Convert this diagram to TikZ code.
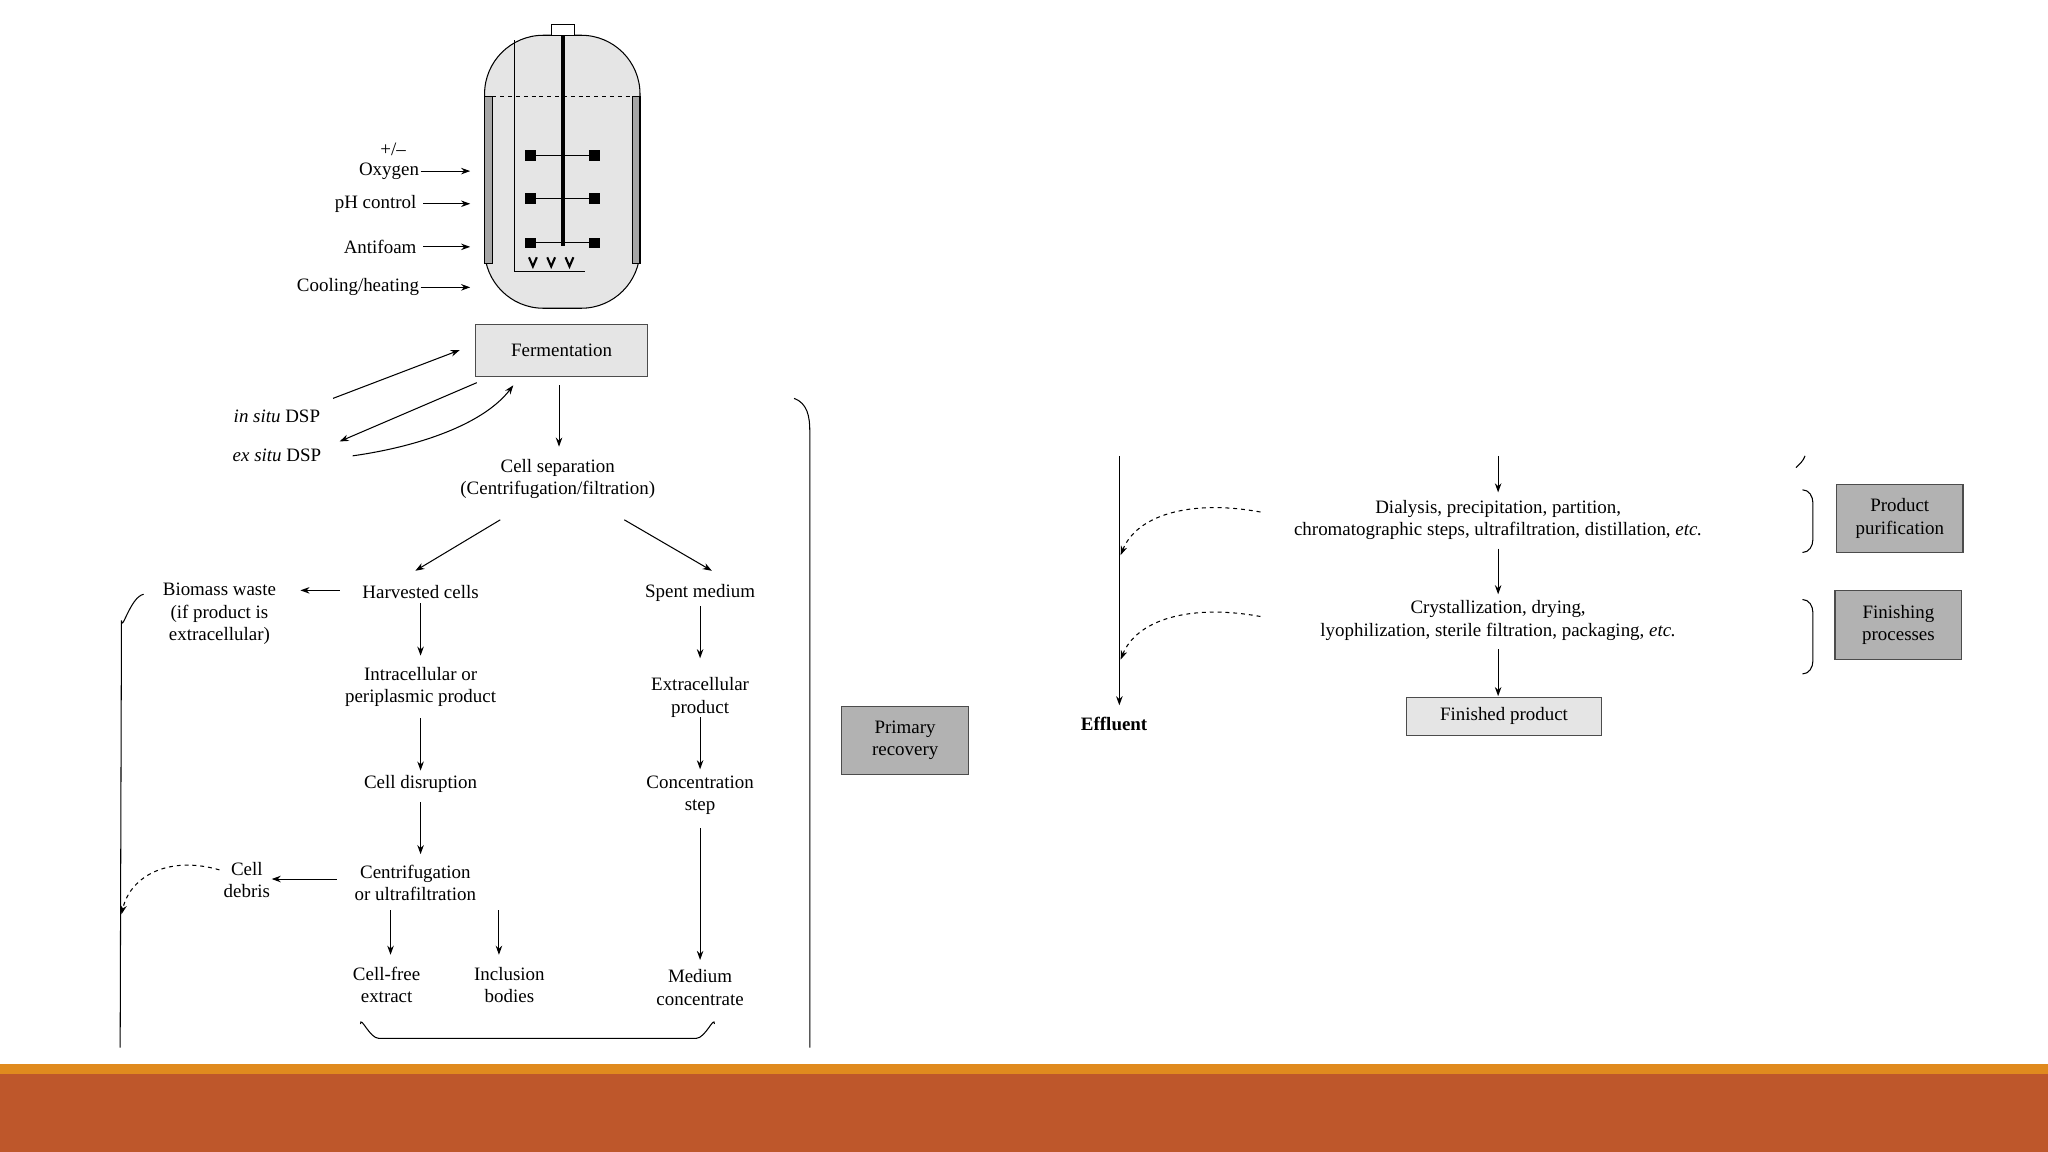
\documentclass[tikz,border=0pt]{standalone}
\usepackage{fontspec}
\setmainfont{Liberation Serif}
\usetikzlibrary{arrows.meta}
\begin{document}
\begin{tikzpicture}[x=1pt,y=-1pt,
  every node/.style={font=\fontsize{14.5}{17}\selectfont,align=center,inner sep=1pt},
  arr/.style={-{Stealth[length=7pt,width=5pt]},line width=0.8pt},
  darr/.style={arr,dashed},
  box/.style={draw=black!70,line width=1pt,fill=black!10,minimum height=40pt},
  dbox/.style={draw=black!70,line width=1pt,fill=black!30,minimum height=52pt,minimum width=97pt},
  ln/.style={line width=0.8pt}]
\useasboundingbox (0,0) rectangle (1568,882);
% fermenter
\draw[ln,fill=black!10,rounded corners=45pt] (371,27) rectangle (490,236);
\draw[ln,fill=white] (422,19) rectangle (440,27);
\draw[dashed,ln] (371,74) -- (490,74);
\draw[ln,fill=black!35] (371,74) rectangle (377,202);
\draw[ln,fill=black!35] (484,74) rectangle (490,202);
\draw[ln] (394,31) -- (394,208) -- (448,208);
\draw[line width=3pt] (431,27) -- (431,188);
\foreach \yy in {119,152,186}{
  \draw[ln] (406,\yy) -- (455,\yy);
  \fill (402,\yy-4) rectangle (410,\yy+4);
  \fill (451,\yy-4) rectangle (459,\yy+4);}
\foreach \xx in {408,422,436}{\draw[line width=1.6pt] (\xx-3,197) -- (\xx,204) -- (\xx+3,197);}
\node (pm) at (301,114) {+/–};
\node[anchor=east] (ox) at (322,131) {Oxygen};
\node[anchor=east] (ph) at (320,156) {pH control};
\node[anchor=east] (af) at (320,189) {Antifoam};
\node[anchor=east] (ch) at (322,220) {Cooling/heating};
\coordinate (t1) at (360,131);\coordinate (t2) at (360,156);\coordinate (t3) at (360,189);\coordinate (t4) at (360,220);
\draw[arr] (ox.east) -- (t1);\draw[arr] (ph.east)++(4,0) -- (t2);
\draw[arr] (af.east)++(4,0) -- (t3);\draw[arr] (ch.east) -- (t4);
\node[box,minimum width=132pt] (fer) at (430,268.5) {Fermentation};
\node (isd) at (212,319) {\textit{in situ} DSP};
\node (esd) at (212,349) {\textit{ex situ} DSP};
\coordinate (a1) at (255,305);\coordinate (a2) at (352,268);
\draw[arr] (a1) -- (a2);
\coordinate (b1) at (365,293);\coordinate (b2) at (260,338);
\draw[arr] (b1) -- (b2);
\coordinate (c1) at (270,349);\coordinate (c2) at (393,295);
\draw[arr] (c1) .. controls (320,342) and (370,325) .. (c2);
\node (cs) at (427,367) {Cell separation\\(Centrifugation/filtration)};
\coordinate (cst0) at (428,295);\coordinate (cst1) at (428,342);
\draw[arr] (cst0) -- (cst1);
\node (hc) at (322,453) {Harvested cells};
\node (sm) at (536,454) {Spent medium};
\draw[arr] (383,398) -- (318,437);
\draw[arr] (478,398) -- (545,437);
\node (bw) at (168,470) {Biomass waste\\(if product is\\extracellular)};
\draw[arr] (260,452) -- (230,452);
\node (ip) at (322,526) {Intracellular or\\periplasmic product};
\node (cd) at (322,600) {Cell disruption};
\node (cu) at (318,676) {Centrifugation\\or ultrafiltration};
\node (deb) at (189,674) {Cell\\debris};
\draw[arr] (322,462) -- (322,502);
\draw[arr] (322,550) -- (322,590);
\draw[arr] (322,614) -- (322,654);
\draw[arr] (258,673) -- (208,673);
\draw[darr] (168,666) .. controls (130,655) and (100,670) .. (93,700);
\node (cfe) at (296,754) {Cell-free\\extract};
\node (ib) at (390,754) {Inclusion\\bodies};
\draw[arr] (299,697) -- (299,731);
\draw[arr] (382,697) -- (382,731);
\node (ep) at (536,534) {Extracellular\\product};
\node (cst) at (536,609) {Concentration\\step};
\node (mc) at (536,756) {Medium\\concentrate};
\draw[arr] (536,464) -- (536,504);
\draw[arr] (536,549) -- (536,589);
\draw[arr] (536,634) -- (536,735);
\draw[ln] (276,784) to[out=90,in=180] (290,795) -- (533,795) to[out=0,in=90] (547,784);
\draw[ln] (110,455) to[out=190,in=-90] (93,475) -- (92,802);
\draw[ln] (608,305) to[out=-20,in=90] (620,330) -- (620,802);
\node[dbox] (pr) at (693,567) {Primary\\recovery};
% right
\node[font=\bfseries\fontsize{14.5}{17}\selectfont] (ef) at (853,554) {Effluent};
\draw[arr] (857,349) -- (857,540);
\node (dia) at (1147,398) {Dialysis, precipitation, partition,\\chromatographic steps, ultrafiltration, distillation, \textit{etc.}};
\node (cry) at (1147,475) {Crystallization, drying,\\lyophilization, sterile filtration, packaging, \textit{etc.}};
\node[box,minimum width=149pt,minimum height=29pt] (fp) at (1151.5,548.5) {Finished product};
\draw[arr] (1147,349) -- (1147,377);
\draw[arr] (1147,420) -- (1147,455);
\draw[arr] (1147,497) -- (1147,533);
\draw[darr] (965,392) .. controls (910,382) and (870,395) .. (858,425);
\draw[darr] (965,472) .. controls (910,462) and (870,475) .. (858,505);
\draw[ln] (1375,358) to[out=45,in=-110] (1382,349);
\draw[ln] (1380,375) to[out=0,in=90] (1388,385) -- (1388,413) to[out=-90,in=0] (1380,423);
\draw[ln] (1380,459) to[out=0,in=90] (1388,469) -- (1388,506) to[out=-90,in=0] (1380,516);
\node[dbox] (pp) at (1454.5,397) {Product\\purification};
\node[dbox,minimum height=53pt] (fpr) at (1453.5,478.5) {Finishing\\processes};
% footer
\fill[fill={rgb,255:red,224;green,138;blue,30}] (0,815) rectangle (1568,822);
\fill[fill={rgb,255:red,190;green,87;blue,43}] (0,822) rectangle (1568,882);
\end{tikzpicture}
\end{document}
